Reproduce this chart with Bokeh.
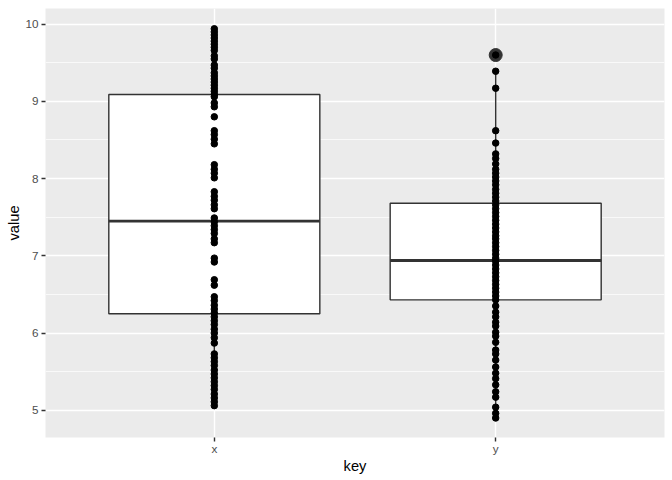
from bokeh.plotting import figure
from bokeh.models import Range1d, FixedTicker
from bokeh.embed import file_html
from bokeh.resources import INLINE

categories = ["x", "y"]

x_values = [9.94, 9.90, 9.86, 9.82, 9.78, 9.74, 9.70, 9.66, 9.59, 9.55, 9.47, 9.43,
            9.37, 9.33, 9.29, 9.25, 9.21, 9.17, 9.13, 9.09, 9.06, 8.98, 8.93, 8.80,
            8.62, 8.57, 8.51, 8.45, 8.18, 8.12, 8.07, 8.01, 7.83, 7.77, 7.72, 7.66,
            7.61, 7.49, 7.44, 7.39, 7.34, 7.29, 7.22, 7.17, 6.97, 6.92, 6.69, 6.62,
            6.47, 6.42, 6.36, 6.31, 6.26, 6.21, 6.16, 6.11, 6.05, 6.00, 5.94, 5.87,
            5.73, 5.68, 5.63, 5.58, 5.52, 5.47, 5.42, 5.37, 5.32, 5.27, 5.21, 5.16,
            5.11, 5.06]

y_values = [9.60, 9.39, 9.17, 8.62, 8.46, 8.32, 8.26, 8.19, 8.12, 8.07, 8.02, 7.97,
            7.92, 7.86, 7.81, 7.76, 7.71, 7.66, 7.61, 7.56, 7.51, 7.46, 7.41, 7.36,
            7.31, 7.26, 7.22, 7.17, 7.12, 7.07, 7.02, 6.97, 6.93, 6.88, 6.83, 6.78,
            6.73, 6.68, 6.63, 6.58, 6.53, 6.48, 6.43, 6.35, 6.27, 6.21, 6.14, 6.09,
            6.01, 5.96, 5.88, 5.78, 5.73, 5.65, 5.56, 5.48, 5.41, 5.33, 5.24, 5.17,
            5.04, 4.96, 4.90]

box_q1 = [6.25, 6.43]
box_median = [7.45, 6.94]
box_q3 = [9.09, 7.68]
whisker_low = [5.06, 4.90]
whisker_high = [9.94, 9.39]
outlier_cat = ["y"]
outlier_val = [9.60]

y_ticks = [5, 6, 7, 8, 9, 10]
y_minor = [4.5, 5.5, 6.5, 7.5, 8.5, 9.5]

pos = [i + 1 for i in range(len(categories))]
half = 0.375

p = figure(width=672, height=480, output_backend="svg", toolbar_location=None,
           x_range=Range1d(0.4, 2.6), y_range=Range1d(4.6475, 10.2025),
           min_border_left=45, min_border_right=8, min_border_top=8,
           min_border_bottom=43)
p.background_fill_color = "#EBEBEB"
p.border_fill_color = "white"
p.outline_line_color = None

# grids
p.xaxis.ticker = FixedTicker(ticks=pos)
p.xaxis.major_label_overrides = {k: c for k, c in zip(pos, categories)}
p.yaxis.ticker = FixedTicker(ticks=y_ticks, minor_ticks=y_minor)
p.xgrid.grid_line_color = "white"
p.xgrid.grid_line_width = 1.42
p.ygrid.grid_line_color = "white"
p.ygrid.grid_line_width = 1.42
p.ygrid.minor_grid_line_color = "white"
p.ygrid.minor_grid_line_width = 0.71

for ax in (p.xaxis, p.yaxis):
    ax.axis_line_color = None
    ax.major_tick_line_color = "#333333"
    ax.major_tick_line_width = 1.42
    ax.major_tick_in = 0
    ax.major_tick_out = 4
    ax.minor_tick_line_color = None
    ax.major_label_text_font = "Liberation Sans"
    ax.major_label_text_font_size = "11.7px"
    ax.major_label_text_color = "#4D4D4D"
    ax.axis_label_text_font = "Liberation Sans"
    ax.axis_label_text_font_size = "14.7px"
    ax.axis_label_text_font_style = "normal"
    ax.axis_label_text_color = "black"

p.xaxis.axis_label = "key"
p.yaxis.axis_label = "value"
p.xaxis.major_label_standoff = 0
p.xaxis.axis_label_standoff = 0
p.yaxis.major_label_standoff = 3
p.yaxis.axis_label_standoff = 0

# whiskers
p.segment(x0=pos, x1=pos, y0=box_q3, y1=whisker_high, line_color="#333333", line_width=1.42)
p.segment(x0=pos, x1=pos, y0=box_q1, y1=whisker_low, line_color="#333333", line_width=1.42)
# boxes
p.quad(left=[v - half for v in pos], right=[v + half for v in pos],
       bottom=box_q1, top=box_q3, fill_color="white", line_color="#333333", line_width=1.42)
p.segment(x0=[v - half for v in pos], x1=[v + half for v in pos],
          y0=box_median, y1=box_median, line_color="#333333", line_width=2.84)
# outliers
p.scatter(x=[pos[categories.index(c)] for c in outlier_cat], y=outlier_val,
          size=13, fill_color="#333333", line_color="#333333")

# points
p.scatter(x=[pos[0]] * len(x_values), y=x_values, size=6.5,
          fill_color="black", line_color="black")
p.scatter(x=[pos[1]] * len(y_values), y=y_values, size=6.5,
          fill_color="black", line_color="black")

open("out.html", "w").write(file_html(p, INLINE))
